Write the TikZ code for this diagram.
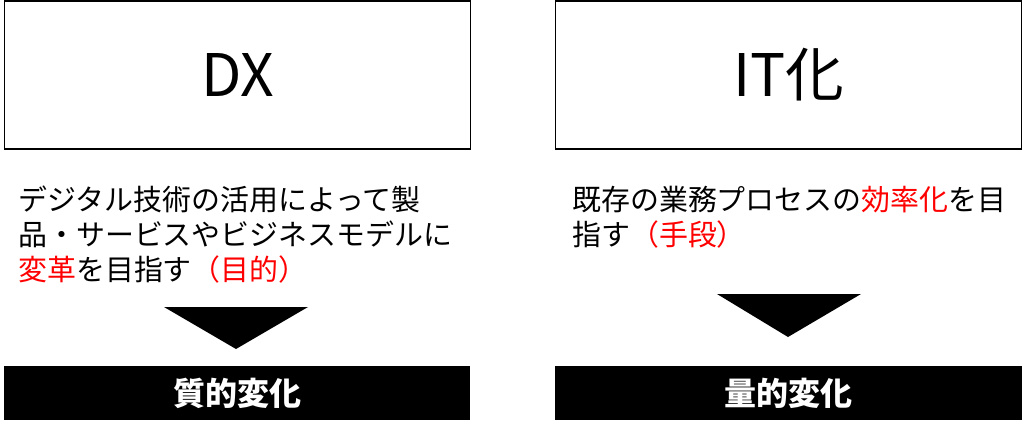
\documentclass[tikz,border=0pt]{standalone}
\usepackage{fontspec}
\setmainfont{Noto Sans CJK JP}
\usetikzlibrary{positioning}

\tikzset{
  titlebox/.style={draw,line width=1.1pt,minimum width=349.5pt,minimum height=111pt,inner sep=0pt,font=\fontsize{44}{48}\selectfont},
  bodytext/.style={anchor=north west,inner sep=0pt,align=left,font=\fontsize{21.7}{26.25}\selectfont},
  resultbar/.style={fill=black,text=white,minimum width=350pt,minimum height=40.5pt,inner sep=0pt,font=\fontsize{24}{28}\selectfont\bfseries}
}

\begin{document}
\begin{tikzpicture}[x=0.75pt,y=-0.75pt]
\useasboundingbox (0,0) rectangle (1024,433);

% Title boxes
\node[titlebox] (dx) at (237.5,75) {DX};
\node[titlebox] (it) at (788.5,75) {IT化};

% Descriptions
\node[bodytext] (dxtext) at (18,186) {デジタル技術の活用によって製\\品・サービスやビジネスモデルに\\\textcolor{red}{変革}を目指す\textcolor{red}{（目的）}};
\node[bodytext] (ittext) at (572,186) {既存の業務プロセスの\textcolor{red}{効率化}を目\\指す\textcolor{red}{（手段）}};

% Arrows
\fill (164,307) -- (308,307) -- (236,349) -- cycle;
\fill (717,294) -- (861,294) -- (788,337) -- cycle;

% Results
\node[resultbar] (dxres) at (237,393) {質的変化};
\node[resultbar] (itres) at (788.5,393) {量的変化};
\end{tikzpicture}
\end{document}
